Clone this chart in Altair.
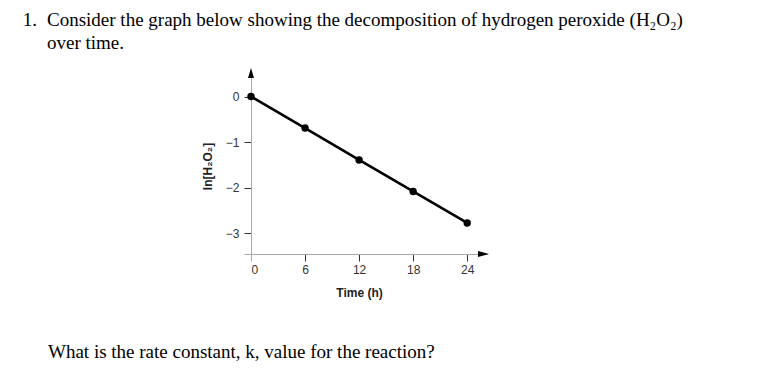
import altair as alt
import pandas as pd

# Data
times = [0, 6, 12, 18, 24]
ln_h2o2 = [0.0, -0.69, -1.39, -2.08, -2.77]

x_ticks = [0, 6, 12, 18, 24]
y_ticks = [0, -1, -2, -3, -3.45]

question_num = "1."
question_line1 = "Consider the graph below showing the decomposition of hydrogen peroxide (H\u2082O\u2082)"
question_line2 = "over time."
question_bottom = "What is the rate constant, k, value for the reaction?"

df = pd.DataFrame({"t": times, "v": ln_h2o2})

W, H = 236, 178
PL, PT = 243, 68

xscale = alt.Scale(domain=[0, 26.2], nice=False, zero=False)
yscale = alt.Scale(domain=[-3.45, 0.45], nice=False, zero=False)

x_axis = alt.Axis(
    values=x_ticks, title="Time (h)", grid=False,
    domainColor="#a8a8a8", domainWidth=1,
    tickColor={"condition": {"test": "datum.value == 0", "value": "#a8a8a8"}, "value": "#333333"},
    tickSize=7, tickWidth=1,
    labelFont="Liberation Sans", labelFontSize=12, labelColor="#333333", labelPadding=3,
    titleFont="Liberation Sans", titleFontSize=12, titleFontWeight="bold", titleColor="#222222",
    titleX=108, titleY=38, titleBaseline="middle", titleAlign="center",
)
y_axis = alt.Axis(
    values=y_ticks, title="ln[H\u2082O\u2082]", grid=False,
    labelExpr="datum.value < -3.2 ? '' : datum.label",
    domainColor="#a8a8a8", domainWidth=1,
    tickColor={"condition": {"test": "datum.value < -3.2", "value": "#a8a8a8"}, "value": "#333333"},
    tickSize=7, tickWidth=1,
    labelFont="Liberation Sans", labelFontSize=12, labelColor="#333333", labelPadding=5,
    titleFont="Liberation Sans", titleFontSize=12, titleFontWeight="bold", titleColor="#222222",
    titleX=-44, titleY=90, titleBaseline="middle", titleAlign="center", titleAngle=-90,
)

base = alt.Chart(df)
line = base.mark_line(color="black", strokeWidth=2.6).encode(
    x=alt.X("t:Q", scale=xscale, axis=x_axis),
    y=alt.Y("v:Q", scale=yscale, axis=y_axis),
)
pts = base.mark_point(filled=True, color="black", size=55, opacity=1).encode(
    x=alt.X("t:Q", scale=xscale),
    y=alt.Y("v:Q", scale=yscale),
)

one = alt.Data(values=[{}])
y_arrow = alt.Chart(one).mark_point(
    shape="M0,-1L0.6,1L-0.6,1Z", filled=True, color="black", size=100, opacity=1
).encode(x=alt.value(0), y=alt.value(-3))
x_arrow = alt.Chart(one).mark_point(
    shape="M1,0L-1,-0.55L-1,0.55Z", filled=True, color="black", size=121, opacity=1
).encode(x=alt.value(232.5), y=alt.value(H))

def txt(s, px, py, size=19):
    return alt.Chart(one).mark_text(
        text=s, align="left", baseline="alphabetic", font="Liberation Serif",
        fontSize=size, color="black"
    ).encode(x=alt.value(px), y=alt.value(py))

t_num = txt(question_num, 22.7 - 251, 25.5 - 76)
t_l1 = txt(question_line1, 47 - 251, 25.5 - 76)
t_l2 = txt(question_line2, 47 - 251, 48.5 - 76)
t_bot = txt(question_bottom, 48 - 251, 358 - 76)

chart = alt.layer(line, pts, y_arrow, x_arrow, t_num, t_l1, t_l2, t_bot).properties(
    width=W, height=H,
    autosize=alt.AutoSizeParams(type="none"),
    padding={"left": PL, "top": PT, "right": 760 - PL - W, "bottom": 354 - PT - H},
    background="white",
).configure_view(stroke=None)

chart.save("out.html", embed_options={"renderer": "svg", "actions": False})
